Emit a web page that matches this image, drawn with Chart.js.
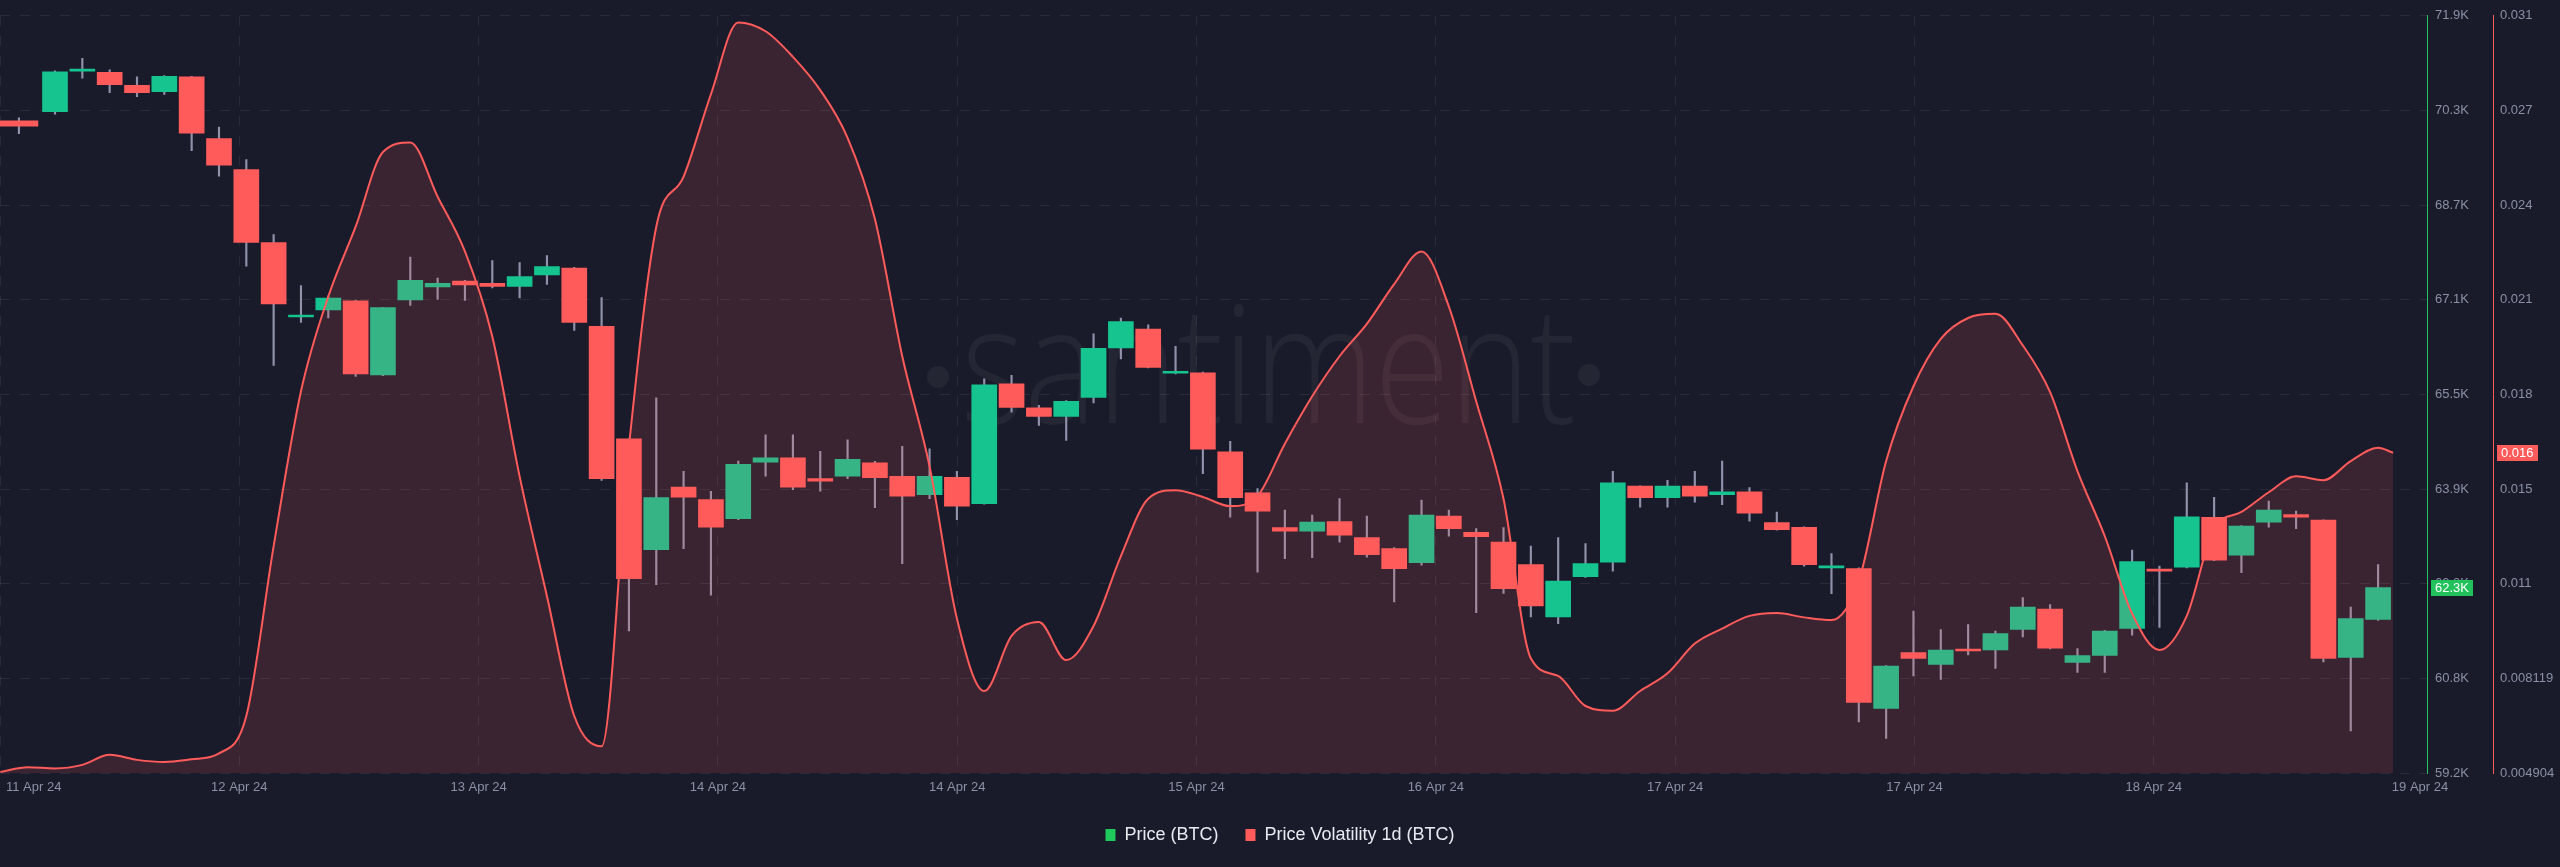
<!DOCTYPE html>
<html>
<head>
<meta charset="utf-8">
<script src="https://cdn.jsdelivr.net/npm/chart.js@4.4.1/dist/chart.umd.min.js"></script>
<style>
html,body{margin:0;padding:0;background:#191b2a;overflow:hidden;}
canvas{display:block;}
</style>
</head>
<body>
<canvas id="c" width="2560" height="867"></canvas>
<script>
// ---------------- DATA ----------------
const xTickLabels = ['11 Apr 24','12 Apr 24','13 Apr 24','14 Apr 24','14 Apr 24','15 Apr 24','16 Apr 24','17 Apr 24','17 Apr 24','18 Apr 24','19 Apr 24'];

const priceTickValues = [59165, 60755, 62345, 63935, 65525, 67115, 68705, 70295, 71885];
const volTickValues = [0.004904, 0.008119, 0.011334, 0.014549, 0.017764, 0.020979, 0.024194, 0.027409, 0.030624];

const open = [70122,70273,70955,70936,70718,70610,70861,69821,69301,68076,
66825,66943,67095,65853,67112,67330,67430,67390,67338,67531,
67648,66667,64779,62917,63966,63757,63437,64386,64461,64110,
64150,64376,64150,63840,64133,63688,65701,65300,65157,65475,
66306,66624,65880,65886,64561,63873,63287,63227,63387,63119,
62934,62699,63480,63210,63044,62666,61785,62465,62708,63983,
63790,63983,63840,63890,63370,63294,62610,62598,60250,61189,
60988,61247,61231,61575,61918,61021,61139,61592,62573,62624,
63462,62826,63379,63505,63412,61106,61744];

const high = [70173,70960,71171,70978,70861,70880,70870,70014,69468,68211,
67355,67180,67110,66985,67832,67481,67440,67773,67739,67858,
67660,67153,64779,65467,64234,63898,64403,64847,64847,64569,
64762,64400,64654,64612,64234,65786,65845,65342,65420,66541,
66809,66692,66331,65900,64737,63941,63580,63497,63773,63480,
62950,63748,63580,63270,63287,62977,63119,63017,64234,63990,
64083,64234,64403,63958,63547,63300,62851,62610,60970,61885,
61575,61659,61549,62112,61995,61256,61560,62909,62641,64041,
63798,63320,63732,63563,63420,61953,62666];

const low = [69904,70232,70836,70593,70525,70566,69621,69191,67681,66013,
66734,66809,65828,65840,67018,67120,67103,67313,67145,67373,
66600,64080,61550,62330,62934,62153,63420,64150,63923,63898,
64110,63622,62683,63773,63420,63680,65225,65005,64754,65383,
66121,65970,65870,64193,63462,62539,62766,62783,63044,62791,
62037,62658,63144,61860,62180,61785,61675,62450,62556,63630,
63630,63715,63672,63396,63245,62640,62178,60024,59747,60796,
60736,61148,60921,61449,61250,60855,60855,61482,61609,62610,
62730,62531,63295,63270,61030,59872,61730];

const close = [70030,70944,70965,70726,70593,70869,69912,69376,68076,67045,
66845,67145,65869,66985,67440,67390,67363,67338,67506,67673,
66734,64110,62431,63790,63798,63294,64351,64461,63966,64066,
64436,64126,63815,64150,63647,65685,65308,65157,65408,66297,
66750,65980,65895,64604,63790,63563,63227,63379,63161,62834,
62598,63497,63270,63136,62263,61970,62390,62683,64041,63790,
63983,63815,63890,63530,63252,62666,62625,60350,60963,61089,
61231,61214,61509,61953,61264,61139,61549,62716,62555,63470,
62741,63312,63580,63462,61089,61760,62280];

// candle time (index units); the first candle is a partial period
const firstCandleTime = -0.32;
const candleTimes = open.map((_, i) => i === 0 ? firstCandleTime : i);

// volatility samples, from one period before the first full candle to the last timestamp
const volatility = [0.00494,
0.00510,0.00506,0.00518,0.00552,0.00535,0.00528,0.00537,0.00557,0.00684,0.01261,
0.01787,0.02109,0.02346,0.02600,0.02632,0.02448,0.02262,0.01973,0.01498,0.01091,
0.00684,0.00581,0.01600,0.02346,0.02516,0.02796,0.03040,0.03010,0.02923,0.02810,
0.02648,0.02372,0.01906,0.01532,0.01015,0.00769,0.00956,0.01003,0.00874,0.00990,
0.01227,0.01422,0.01451,0.01428,0.01397,0.01431,0.01609,0.01770,0.01906,0.02016,
0.02151,0.02262,0.02075,0.01753,0.01422,0.00880,0.00820,0.00718,0.00702,0.00769,
0.00829,0.00930,0.00981,0.01024,0.01034,0.01019,0.01010,0.01143,0.01550,0.01804,
0.01965,0.02036,0.02050,0.01943,0.01784,0.01516,0.01295,0.01032,0.00908,0.01024,
0.01321,0.01377,0.01444,0.01498,0.01485,0.01550,0.01595,
0.01578];
const lastTime = 86.55;
const volTimes = volatility.map((_, k) => k === volatility.length - 1 ? lastTime : k - 1);

// ---------------- STYLE ----------------
const FONT = "'Liberation Sans', Arial, Helvetica, sans-serif";
const GREEN = '#15c48e';
const RED = '#ff5b5b';
const GRID = 'rgba(255,255,255,0.075)';
const TICK_COLOR = '#8b90a5';
const X_MIN = -1.0125, X_MAX = 87.79, X_TICK_STEP = 8.756;

const bodyData = candleTimes.map((t, i) => ({x: t, y: [open[i], close[i]]}));
const wickData = candleTimes.map((t, i) => ({x: t, y: [low[i], high[i]]}));
const volData = volTimes.map((t, k) => ({x: t, y: volatility[k]}));

const candleColor = (ctx) => {
  const r = ctx.raw;
  if (!r) return GREEN;
  return r.y[1] >= r.y[0] ? GREEN : RED;
};

const watermark = {
  id: 'watermark',
  beforeDatasetsDraw(chart) {
    const ctx = chart.ctx;
    ctx.save();
    ctx.fillStyle = 'rgba(255,255,255,0.05)';
    ctx.font = "300 150px 'Open Sans', 'Noto Sans', sans-serif";
    ctx.textBaseline = 'alphabetic';
    ctx.textAlign = 'left';
    const txt = 'santiment';
    const w = ctx.measureText(txt).width;
    const targetW = 615;
    ctx.translate(961, 423);
    ctx.scale(targetW / w, 1.1);
    ctx.fillText(txt, 0, 0);
    ctx.restore();
    ctx.save();
    ctx.fillStyle = 'rgba(255,255,255,0.05)';
    ctx.beginPath(); ctx.arc(938, 377, 11, 0, Math.PI * 2); ctx.fill();
    ctx.beginPath(); ctx.arc(1589, 375, 11, 0, Math.PI * 2); ctx.fill();
    ctx.restore();
  }
};

const xLabels = {
  id: 'xLabels',
  afterDraw(chart) {
    const s = chart.scales.x;
    const ctx = chart.ctx;
    ctx.save();
    ctx.font = '13px ' + FONT;
    ctx.fillStyle = TICK_COLOR;
    ctx.textBaseline = 'middle';
    const last = s.ticks.length - 1;
    s.ticks.forEach((t, k) => {
      let px = s.getPixelForValue(t.value);
      let align = 'center';
      if (k === 0) { align = 'left'; px += 6; }
      if (k === last) { px += 27; }
      ctx.textAlign = align;
      ctx.fillText(xTickLabels[k], px, s.top + 14);
    });
    ctx.restore();
  }
};

const lastValues = {
  id: 'lastValues',
  afterDraw(chart) {
    const ctx = chart.ctx;
    const yP = chart.scales.yPrice, yV = chart.scales.yVol;
    const lc = close[close.length - 1];
    const lv = volatility[volatility.length - 1];
    ctx.save();
    ctx.font = '13px ' + FONT;
    ctx.textBaseline = 'middle';
    ctx.textAlign = 'left';
    let py = yP.getPixelForValue(lc);
    ctx.fillStyle = '#21c25c';
    ctx.fillRect(yP.left + 4, Math.round(py - 8), 42, 16);
    ctx.fillStyle = '#ffffff';
    ctx.fillText((lc / 1000).toFixed(1) + 'K', yP.left + 8, py + 0.5);
    let vy = yV.getPixelForValue(lv);
    ctx.fillStyle = RED;
    ctx.fillRect(yV.left + 4, Math.round(vy - 8), 41, 16);
    ctx.fillStyle = '#ffffff';
    ctx.fillText(lv.toFixed(3), yV.left + 8, vy + 0.5);
    ctx.restore();
  }
};

new Chart(document.getElementById('c'), {
  type: 'bar',
  data: {
    datasets: [
      {
        type: 'line',
        label: 'Price Volatility 1d (BTC)',
        data: volData,
        xAxisID: 'x',
        yAxisID: 'yVol',
        borderColor: RED,
        borderWidth: 2,
        backgroundColor: 'rgba(255,91,91,0.15)',
        fill: 'start',
        pointRadius: 0,
        cubicInterpolationMode: 'monotone',
        order: 0
      },
      {
        label: 'Price (BTC)',
        data: bodyData.slice(1),
        xAxisID: 'x',
        yAxisID: 'yPrice',
        backgroundColor: candleColor,
        borderWidth: 0,
        barThickness: 25,
        minBarLength: 2,
        grouped: false,
        order: 1
      },
      {
        label: 'Price (BTC) first',
        data: bodyData.slice(0, 1),
        xAxisID: 'x',
        yAxisID: 'yPrice',
        backgroundColor: candleColor,
        borderWidth: 0,
        barThickness: 38,
        minBarLength: 2,
        grouped: false,
        order: 1
      },
      {
        label: 'wicks',
        data: wickData,
        xAxisID: 'x',
        yAxisID: 'yPrice',
        backgroundColor: '#8f92aa',
        borderWidth: 0,
        barThickness: 1.5,
        grouped: false,
        order: 2
      }
    ]
  },
  options: {
    responsive: false,
    animation: false,
    devicePixelRatio: 1,
    layout: { padding: { top: 9, left: 0, right: 0, bottom: 13 } },
    scales: {
      x: {
        type: 'linear',
        min: X_MIN,
        max: X_MAX,
        offset: false,
        grid: {
          offset: false,
          drawTicks: false,
          color: (c) => (c.index === xTickLabels.length - 1 ? 'rgba(0,0,0,0)' : GRID),
          lineWidth: 1
        },
        border: { display: false, dash: [10, 10] },
        ticks: { display: false },
        afterBuildTicks: (s) => { s.ticks = xTickLabels.map((_, k) => ({ value: X_MIN + k * X_TICK_STEP })); },
        afterFit: (s) => { s.height = 26; }
      },
      yPrice: {
        type: 'linear',
        position: 'right',
        weight: 0,
        min: priceTickValues[0],
        max: priceTickValues[priceTickValues.length - 1],
        grid: { color: GRID, drawTicks: false, lineWidth: 1 },
        border: { display: true, color: '#22c55e', width: 1, dash: [10, 10] },
        ticks: {
          color: TICK_COLOR,
          font: { size: 13, family: FONT },
          padding: 8,
          callback: (v) => (v / 1000).toFixed(1) + 'K'
        },
        afterBuildTicks: (s) => { s.ticks = priceTickValues.map((v) => ({ value: v })); },
        afterFit: (s) => { s.width = 66; }
      },
      yVol: {
        type: 'linear',
        position: 'right',
        weight: 1,
        min: volTickValues[0],
        max: volTickValues[volTickValues.length - 1],
        grid: { display: false, drawOnChartArea: false, drawTicks: false },
        border: { display: true, color: RED, width: 1 },
        ticks: {
          color: TICK_COLOR,
          font: { size: 13, family: FONT },
          padding: 7,
          callback: (v) => (v < 0.01 ? v.toFixed(6) : v.toFixed(3))
        },
        afterBuildTicks: (s) => { s.ticks = volTickValues.map((v) => ({ value: v })); },
        afterFit: (s) => { s.width = 67; }
      }
    },
    plugins: {
      tooltip: { enabled: false },
      legend: {
        position: 'bottom',
        onClick: null,
        labels: {
          color: '#e8eaf1',
          font: { size: 18, family: FONT },
          boxWidth: 10,
          boxHeight: 12,
          padding: 27,
          generateLabels: () => [
            { text: 'Price (BTC)', fillStyle: '#1fc95c', strokeStyle: '#1fc95c', lineWidth: 0, hidden: false, datasetIndex: 1, fontColor: '#e8eaf1' },
            { text: 'Price Volatility 1d (BTC)', fillStyle: RED, strokeStyle: RED, lineWidth: 0, hidden: false, datasetIndex: 0, fontColor: '#e8eaf1' }
          ]
        }
      }
    }
  },
  plugins: [watermark, xLabels, lastValues]
});
</script>
</body>
</html>
